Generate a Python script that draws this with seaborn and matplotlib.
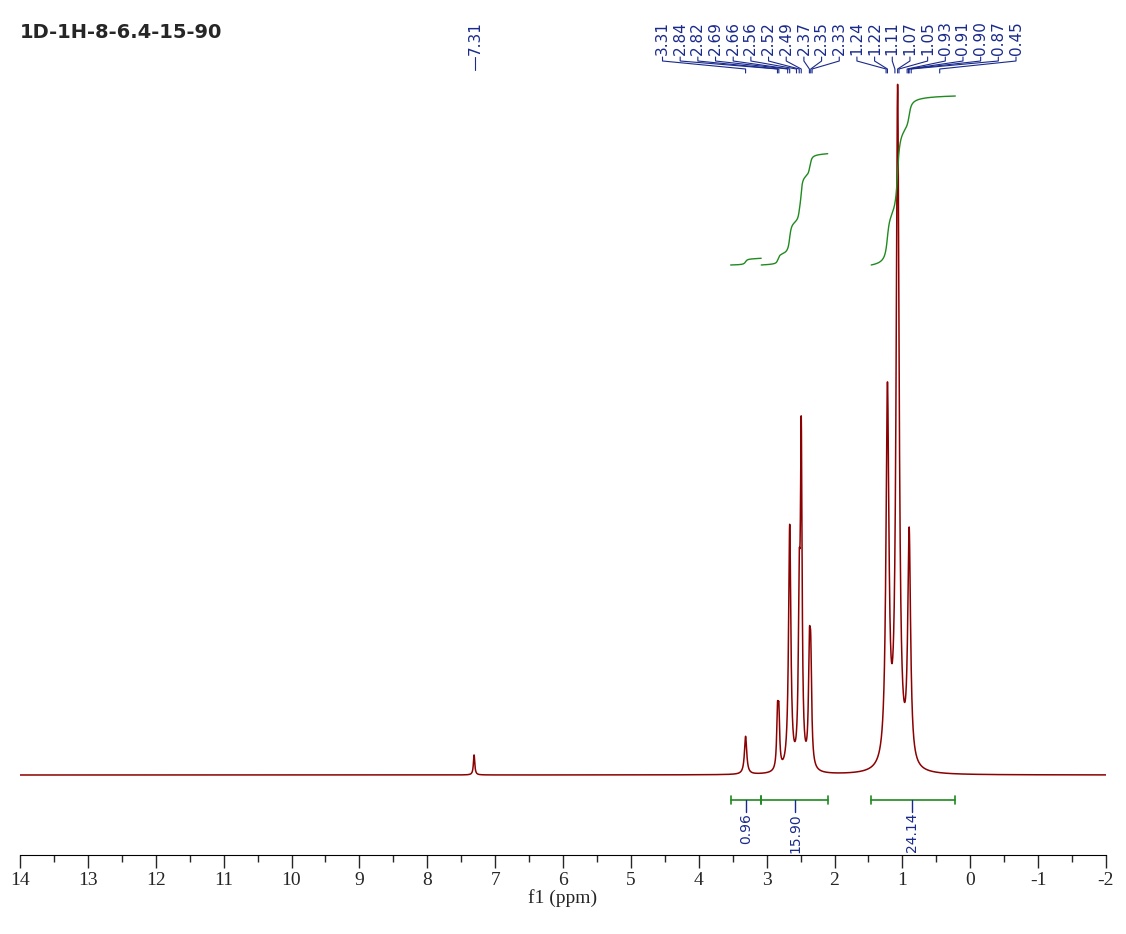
import numpy as np
import matplotlib
matplotlib.use("Agg")
import matplotlib.pyplot as plt
import seaborn as sns

sns.set_style("white")
plt.rcParams['font.family'] = ['DejaVu Sans']

title = "1D-1H-8-6.4-15-90"
# peak model: position (ppm), height (px above baseline), half-width (ppm)
peak_pos = [7.31, 3.31, 2.84, 2.82, 2.66, 2.52, 2.49, 2.37, 2.35, 1.22, 1.07, 0.90]
peak_h   = [20, 38, 52, 50, 245, 150, 322, 100, 95, 372, 675, 230]
peak_w   = [0.012, 0.02, 0.014, 0.014, 0.02, 0.015, 0.015, 0.016, 0.016, 0.026, 0.026, 0.025]

labels_group = ["3.31","2.84","2.82","2.69","2.66","2.56","2.52","2.49","2.37","2.35","2.33",
                "1.24","1.22","1.11","1.07","1.05","0.93","0.91","0.90","0.87","0.45"]
label_single = "7.31"

int_ranges = [(3.53, 3.08), (3.08, 2.10), (1.46, 0.22)]
int_values = [0.96, 15.90, 24.14]
int_label_pos = [3.30, 2.58, 0.86]

xticks = list(range(14, -3, -1))

W, H = 1126, 934
fig = plt.figure(figsize=(W/100, H/100), dpi=100)
x0, x1 = 20, 1106
ax = fig.add_axes([x0/W, (H-855)/H, (x1-x0)/W, 855/H])
ax.set_xlim(14, -2)
ax.set_ylim(-80, 775)

def px2ppm(px):
    return 14 - (px - x0) * 16 / (x1 - x0)

ppm = np.linspace(14, -2, 12000)
spec = np.zeros_like(ppm)
for p, h, w in zip(peak_pos, peak_h, peak_w):
    spec += h * w**2 / ((ppm - p)**2 + w**2)
sns.lineplot(x=ppm, y=spec, color="#8b0000", lw=1.1, ax=ax, estimator=None, sort=False)

green = "#1f8a1f"
navy = "#1a2a8c"
for (a, b), v in zip(int_ranges, int_values):
    m = (ppm <= a) & (ppm >= b)
    c = np.cumsum(spec[m]); c = c / c[-1]
    ax.plot(ppm[m], 510 + c * v * 7.0, color=green, lw=1)
    ax.plot([a, b], [-25, -25], color=green, lw=1.2)
    for e in (a, b):
        ax.plot([e, e], [-21, -29], color=green, lw=1.2)
for p, v in zip(int_label_pos, int_values):
    ax.plot([p, p], [-25, -37], color=navy, lw=1)
    ax.text(p, -38, f"{v:.2f}", rotation=90, ha="center", va="top", color=navy, fontsize=10)

n = len(labels_group)
lx = np.linspace(662.5, 1016, n)
for i, lab in enumerate(labels_group):
    p = float(lab); xl = px2ppm(lx[i])
    ax.plot([xl, xl, p, p], [718, 714, 706, 702], color=navy, lw=0.8)
    ax.text(xl, 720, lab, rotation=90, ha="center", va="bottom", color=navy, fontsize=11)
xs = px2ppm(475)
ax.plot([xs, xs], [705, 718], color=navy, lw=0.8)
ax.text(xs, 720, label_single, rotation=90, ha="center", va="bottom", color=navy, fontsize=11)

fig.text(20/W, 1 - 33/H, title, fontsize=14, fontweight="bold", va="center", ha="left")

for s in ["top", "left", "right"]:
    ax.spines[s].set_visible(False)
ax.spines["bottom"].set_color("black")
ax.set_yticks([])
ax.set_xticks(xticks)
ax.set_xticklabels([str(t) for t in xticks], fontfamily="Liberation Serif", fontsize=14)
ax.set_xticks(np.arange(13.5, -2, -1), minor=True)
ax.tick_params(axis="x", which="major", direction="out", length=9, width=1, bottom=True)
ax.tick_params(axis="x", which="minor", direction="out", length=5, width=1, bottom=True)
ax.set_xlabel("f1 (ppm)", fontfamily="Liberation Serif", fontsize=14, labelpad=0)

fig.savefig("out.png", dpi=100)
